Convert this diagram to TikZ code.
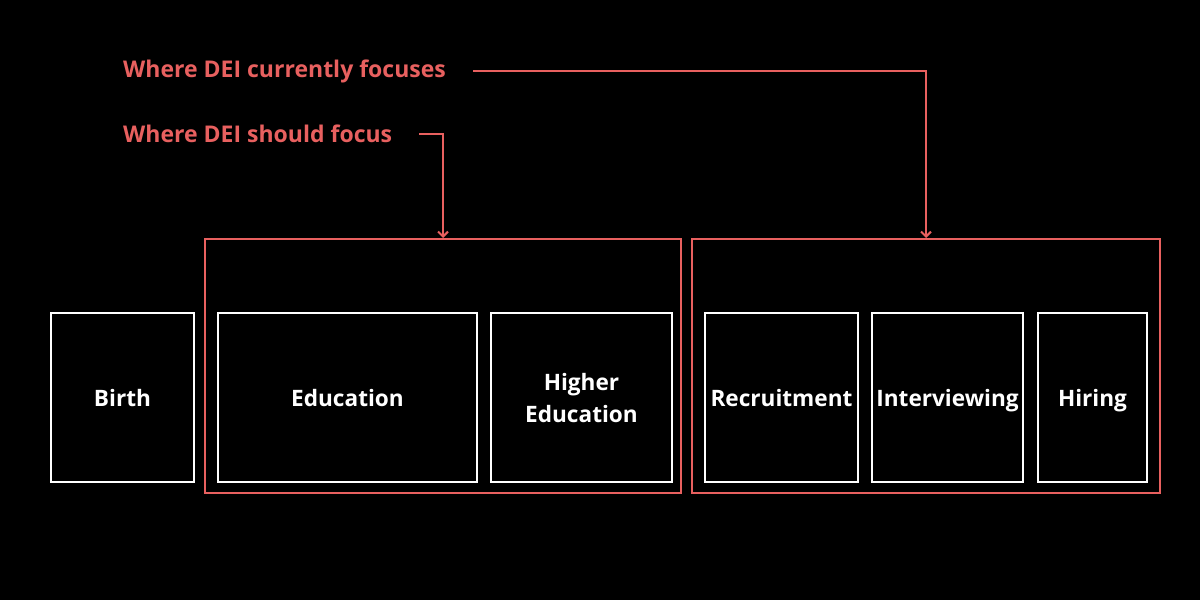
\documentclass[tikz,border=0pt]{standalone}
\usepackage{fontspec}
\setmainfont{Open Sans}
\usetikzlibrary{arrows.meta}
\definecolor{deired}{HTML}{E8605F}
\newcommand\stagestrut{\rule[-6pt]{0pt}{30pt}}
\tikzset{
  stagebox/.style={draw=white, line width=2.4pt, text=white, font=\bfseries\fontsize{22.6pt}{32pt}\selectfont, align=center, inner sep=0pt},
  groupbox/.style={draw=deired, line width=2pt, inner sep=0pt},
  redlabel/.style={text=deired, font=\bfseries\fontsize{23pt}{26pt}\selectfont, inner sep=0pt, anchor=west},
  pointer/.style={draw=deired, line width=2pt, -{Straight Barb[length=5pt,width=10pt,line width=2pt]}}
}
\begin{document}
\begin{tikzpicture}[x=1pt,y=-1pt]
\fill[black] (0,0) rectangle (1200,600);
\useasboundingbox (0,0) rectangle (1200,600);
% group frames
\node[groupbox, minimum width=476pt, minimum height=254pt] (rb1) at (443,366) {};
\node[groupbox, minimum width=468pt, minimum height=254pt] (rb2) at (926,366) {};
% stages
\node[stagebox, minimum width=143pt, minimum height=169pt] (birth) at (122.5,397.5) {\stagestrut Birth};
\node[stagebox, minimum width=259pt, minimum height=169pt] (edu) at (347.5,397.5) {\stagestrut Education};
\node[stagebox, minimum width=181pt, minimum height=169pt] (hedu) at (581.5,397.5) {\stagestrut Higher\\Education\stagestrut};
\node[stagebox, minimum width=153pt, minimum height=169pt] (recr) at (781.5,397.5) {\stagestrut Recruitment};
\node[stagebox, minimum width=151pt, minimum height=169pt] (intv) at (947.5,397.5) {\stagestrut Interviewing};
\node[stagebox, minimum width=109pt, minimum height=169pt] (hire) at (1092.5,397.5) {\stagestrut Hiring};
% labels
\node[redlabel] (cur) at (123,71) {Where DEI currently focuses};
\node[redlabel] (should) at (123,134) {Where DEI should focus};
% pointers
\coordinate (curstart) at ([xshift=27pt]cur.east);
\coordinate (shouldstart) at ([xshift=27pt]should.east);
\draw[pointer] (curstart) -| (rb2.north);
\draw[pointer] (shouldstart) -| (rb1.north);
\end{tikzpicture}
\end{document}
